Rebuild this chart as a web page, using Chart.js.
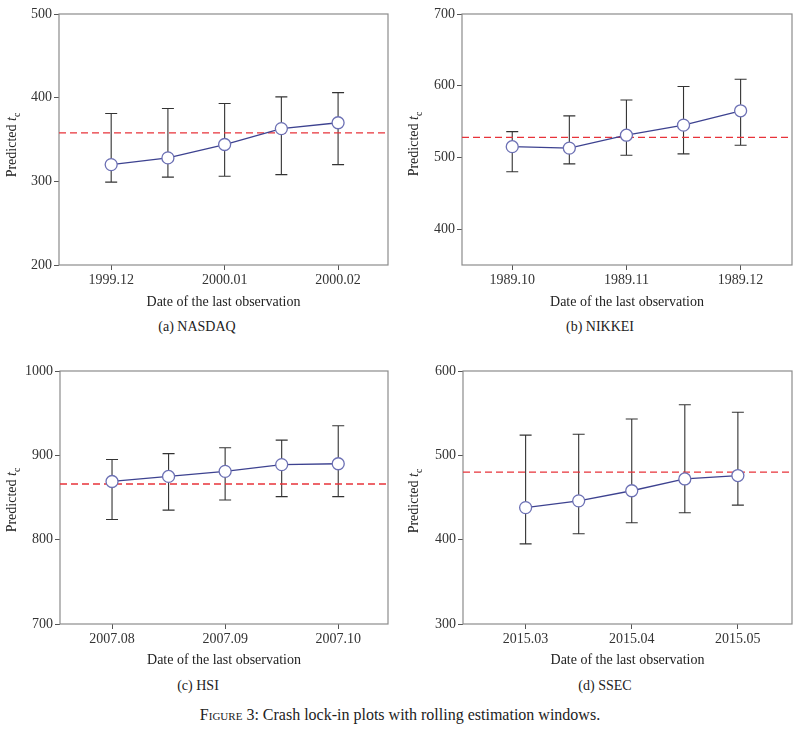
<!DOCTYPE html>
<html>
<head>
<meta charset="utf-8">
<script src="https://cdn.jsdelivr.net/npm/chart.js@4.4.0/dist/chart.umd.min.js"></script>
<style>
body { margin: 0; background: #fff; width: 800px; height: 730px; position: relative; font-family: "Liberation Serif", serif; color: #222; }
.panel { position: absolute; width: 400px; height: 314px; }
.ytitle { position: absolute; transform: translate(-50%, -50%) rotate(-90deg); font-size: 14px; white-space: nowrap; }
.ytitle sub { font-size: 10px; }
.cap { position: absolute; transform: translate(-50%, -50%); font-size: 14px; white-space: nowrap; }
.fig { position: absolute; left: 400px; top: 715px; transform: translate(-50%, -50%); font-size: 16px; white-space: nowrap; }
.fig span { font-variant: small-caps; }
</style>
</head>
<body>

<div class="panel" style="left:0;top:0"><canvas id="c0" width="400" height="313"></canvas></div>
<div class="panel" style="left:400px;top:0"><canvas id="c1" width="400" height="313"></canvas></div>
<div class="panel" style="left:0;top:357px"><canvas id="c2" width="400" height="314"></canvas></div>
<div class="panel" style="left:400px;top:357px"><canvas id="c3" width="400" height="314"></canvas></div>

<div class="ytitle" style="left:13px;top:145px">Predicted <i>t</i><sub>c</sub></div>
<div class="ytitle" style="left:415px;top:144px">Predicted <i>t</i><sub>c</sub></div>
<div class="ytitle" style="left:13px;top:500px">Predicted <i>t</i><sub>c</sub></div>
<div class="ytitle" style="left:415px;top:501px">Predicted <i>t</i><sub>c</sub></div>

<div class="cap" style="left:197px;top:327px">(a) NASDAQ</div>
<div class="cap" style="left:600px;top:327px">(b) NIKKEI</div>
<div class="cap" style="left:198px;top:686px">(c) HSI</div>
<div class="cap" style="left:605px;top:686px">(d) SSEC</div>

<div class="fig"><span>Figure</span> 3: Crash lock-in plots with rolling estimation windows.</div>

<script>
// (a) NASDAQ
var nasdaqDates = ['1999.12', '2000.01', '2000.02'];
var nasdaqTc = [320, 328, 344, 363, 370];
var nasdaqLow = [299, 305, 306, 308, 320];
var nasdaqHigh = [381, 387, 393, 401, 406];
var nasdaqCrash = 358;

// (b) NIKKEI
var nikkeiDates = ['1989.10', '1989.11', '1989.12'];
var nikkeiTc = [515, 513, 531, 545, 565];
var nikkeiLow = [480, 491, 503, 505, 517];
var nikkeiHigh = [536, 558, 580, 599, 609];
var nikkeiCrash = 528;

// (c) HSI
var hsiDates = ['2007.08', '2007.09', '2007.10'];
var hsiTc = [869, 875, 881, 889, 890];
var hsiLow = [824, 835, 847, 851, 851];
var hsiHigh = [895, 902, 909, 918, 935];
var hsiCrash = 866;

// (d) SSEC
var ssecDates = ['2015.03', '2015.04', '2015.05'];
var ssecTc = [438, 446, 458, 472, 476];
var ssecLow = [395, 407, 420, 432, 441];
var ssecHigh = [524, 525, 543, 560, 551];
var ssecCrash = 480;

var yRanges = [[200, 500], [350, 700], [700, 1000], [300, 600]];
var xRanges = [[-0.92, 4.88], [-0.88, 4.9], [-0.92, 4.88], [-1.18, 5.02]];

// draws whiskers and the frame around the plot area
var errorBars = {
    id: 'errorBars',
    beforeDatasetsDraw: function(chart, args, opts) {
        var x = chart.scales.x, y = chart.scales.y, ctx = chart.ctx, a = chart.chartArea;
        ctx.save();
        ctx.strokeStyle = '#8c8c8c';
        ctx.lineWidth = 1.2;
        ctx.strokeRect(a.left, a.top, a.right - a.left, a.bottom - a.top);
        ctx.strokeStyle = '#333';
        ctx.lineWidth = 1.1;
        for (var i = 0; i < opts.low.length; i++) {
            var px = x.getPixelForValue(i);
            var top = y.getPixelForValue(opts.high[i]);
            var bot = y.getPixelForValue(opts.low[i]);
            ctx.beginPath();
            ctx.moveTo(px, top); ctx.lineTo(px, bot);
            ctx.moveTo(px - 6, top); ctx.lineTo(px + 6, top);
            ctx.moveTo(px - 6, bot); ctx.lineTo(px + 6, bot);
            ctx.stroke();
        }
        ctx.restore();
    }
};

function makeChart(id, n, dates, tc, low, high, crash, yWidth, xHeight, padRight) {
    var pts = tc.map(function(v, i) { return {x: i, y: v}; });
    var xr = xRanges[n], yr = yRanges[n];
    var ctx = document.getElementById(id);
    return new Chart(ctx, {
        type: 'line',
        data: {
            datasets: [
                {
                    data: pts,
                    borderColor: '#3d4290',
                    borderWidth: 1.3,
                    pointBackgroundColor: '#ffffff',
                    pointBorderColor: '#6c70b4',
                    pointBorderWidth: 1.3,
                    pointRadius: 6,
                    order: 0
                },
                {
                    data: [{x: xr[0], y: crash}, {x: xr[1], y: crash}],
                    borderColor: '#e8333a',
                    borderWidth: 1.3,
                    borderDash: [7, 4],
                    pointRadius: 0,
                    order: 1
                }
            ]
        },
        options: {
            responsive: false,
            animation: false,
            layout: { padding: { top: 14, right: padRight, left: 0, bottom: 0 } },
            plugins: {
                legend: { display: false },
                tooltip: { enabled: false },
                errorBars: { low: low, high: high }
            },
            scales: {
                x: {
                    type: 'linear',
                    min: xr[0],
                    max: xr[1],
                    afterBuildTicks: function(scale) {
                        scale.ticks = [{value: 0}, {value: 2}, {value: 4}];
                    },
                    afterFit: function(scale) { scale.height = xHeight; },
                    ticks: {
                        color: '#333',
                        padding: 2,
                        maxRotation: 0,
                        font: { family: 'Liberation Serif', size: 14 },
                        callback: function(v) { return dates[v / 2]; }
                    },
                    grid: { drawOnChartArea: false, drawTicks: true, tickLength: 5, color: '#555' },
                    border: { display: false },
                    title: {
                        display: true,
                        text: 'Date of the last observation',
                        color: '#222',
                        padding: { top: 0, bottom: 2 },
                        font: { family: 'Liberation Serif', size: 14 }
                    }
                },
                y: {
                    min: yr[0],
                    max: yr[1],
                    afterBuildTicks: function(scale) {
                        scale.ticks = scale.ticks.filter(function(t) { return t.value % 100 === 0; });
                    },
                    afterFit: function(scale) { scale.width = yWidth; },
                    ticks: {
                        stepSize: 100,
                        color: '#333',
                        padding: 2,
                        font: { family: 'Liberation Serif', size: 14 },
                        callback: function(v) { return String(v); }
                    },
                    grid: { drawOnChartArea: false, drawTicks: true, tickLength: 5, color: '#555' },
                    border: { display: false }
                }
            }
        },
        plugins: [errorBars]
    });
}

makeChart('c0', 0, nasdaqDates, nasdaqTc, nasdaqLow, nasdaqHigh, nasdaqCrash, 59, 48, 12);
makeChart('c1', 1, nikkeiDates, nikkeiTc, nikkeiLow, nikkeiHigh, nikkeiCrash, 62, 48, 8);
makeChart('c2', 2, hsiDates, hsiTc, hsiLow, hsiHigh, hsiCrash, 60, 47, 12);
makeChart('c3', 3, ssecDates, ssecTc, ssecLow, ssecHigh, ssecCrash, 63, 47, 8);
</script>
</body>
</html>
